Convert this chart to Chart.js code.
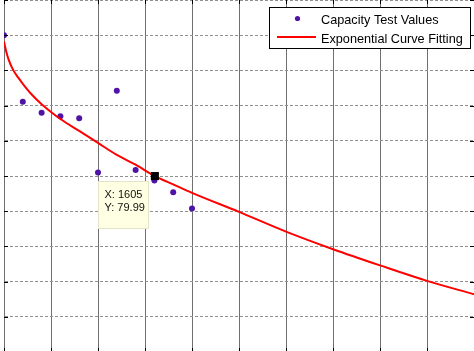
<!DOCTYPE html>
<html>
<head>
<meta charset="utf-8">
<script src="https://cdn.jsdelivr.net/npm/chart.js@4"></script>
<style>
  html, body { margin: 0; padding: 0; background: #fff; overflow: hidden; }
  #wrap { position: relative; width: 474px; height: 352px; }
</style>
</head>
<body>
<div id="wrap"><canvas id="capacityChart"></canvas></div>
<script>
// capacity tests, every 200 cycles
const testCycles = [0, 200, 400, 600, 800, 1000, 1200, 1400, 1600, 1800, 2000];
const testCapacity = [100, 90.55, 89.0, 88.5, 88.2, 80.5, 92.1, 80.85, 79.35, 77.7, 75.4];

// fitted curve
const fitCycles = [0, 25, 50, 100, 150, 200, 300, 400, 500, 600, 800, 1000, 1200, 1400, 1605, 1800, 2000, 2500, 3000, 3500, 4000, 4500, 5000];
const fitCapacity = [99.1, 97.6, 96.5, 95.0, 94.0, 93.1, 91.5, 90.2, 89.1, 88.1, 86.4, 84.7, 83.0, 81.6, 79.99, 78.8, 77.6, 74.9, 72.1, 69.6, 67.3, 65.1, 63.2];

// data cursor
const tipX = 1605;
const tipY = 79.99;

const xTicks = [0, 500, 1000, 1500, 2000, 2500, 3000, 3500, 4000, 4500, 5000];
const yTicks = [55, 60, 65, 70, 75, 80, 85, 90, 95, 100, 105];

const dotColor = '#4f14a6';
const lineColor = '#ff0000';
const uiFont = '"Liberation Sans", Arial, sans-serif';

const toXY = (xs, ys) => xs.map((x, i) => ({ x, y: ys[i] }));

// matlab style ticks pointing inward on all four sides
const innerTicks = {
  id: 'innerTicks',
  afterDatasetsDraw(chart) {
    const { ctx, chartArea: a, scales } = chart;
    ctx.save();
    ctx.strokeStyle = '#000';
    ctx.lineWidth = 1;
    ctx.beginPath();
    xTicks.forEach((v) => {
      const px = Math.round(scales.x.getPixelForValue(v)) + 0.5;
      ctx.moveTo(px, a.bottom); ctx.lineTo(px, a.bottom - 4);
      ctx.moveTo(px, a.top); ctx.lineTo(px, a.top + 4);
    });
    yTicks.forEach((v) => {
      const py = Math.round(scales.y.getPixelForValue(v)) + 0.5;
      ctx.moveTo(a.left, py); ctx.lineTo(a.left + 4, py);
      ctx.moveTo(a.right, py); ctx.lineTo(a.right - 4, py);
    });
    ctx.stroke();
    ctx.restore();
  }
};

// the yellow data tip box under the cursor
const dataTip = {
  id: 'dataTip',
  afterDatasetsDraw(chart) {
    const { ctx, scales } = chart;
    const px = scales.x.getPixelForValue(tipX);
    const py = scales.y.getPixelForValue(tipY);
    const bx = Math.round(px - 57) + 0.5;
    const by = Math.round(py + 5) + 0.5;
    ctx.save();
    ctx.fillStyle = '#ffffe4';
    ctx.strokeStyle = '#e4e4c8';
    ctx.lineWidth = 1;
    ctx.fillRect(bx, by, 50, 47);
    ctx.strokeRect(bx, by, 50, 47);
    ctx.fillStyle = '#111';
    ctx.font = '11px ' + uiFont;
    ctx.textBaseline = 'middle';
    ctx.fillText('X: ' + tipX, bx + 6, by + 13);
    ctx.fillText('Y: ' + tipY.toFixed(2), bx + 6, by + 26);
    ctx.restore();
  }
};

// legend box in the top right corner
const boxLegend = {
  id: 'boxLegend',
  afterDraw(chart) {
    const { ctx } = chart;
    const x0 = 269.5, y0 = 7.5, w = 201, h = 41;
    ctx.save();
    ctx.fillStyle = '#fff';
    ctx.fillRect(x0, y0, w, h);
    ctx.strokeStyle = '#000';
    ctx.lineWidth = 1;
    ctx.strokeRect(x0, y0, w, h);

    ctx.fillStyle = dotColor;
    ctx.beginPath();
    ctx.arc(297.5, 18.5, 2.6, 0, Math.PI * 2);
    ctx.fill();

    ctx.strokeStyle = lineColor;
    ctx.lineWidth = 2;
    ctx.beginPath();
    ctx.moveTo(277, 37); ctx.lineTo(316, 37);
    ctx.stroke();

    ctx.fillStyle = '#000';
    ctx.font = '12.7px ' + uiFont;
    ctx.textBaseline = 'middle';
    ctx.fillText(chart.data.datasets[0].label, 321, 20);
    ctx.fillText(chart.data.datasets[1].label, 321, 39);
    ctx.restore();
  }
};

new Chart(document.getElementById('capacityChart'), {
  type: 'scatter',
  data: {
    datasets: [
      {
        label: 'Capacity Test Values',
        data: toXY(testCycles, testCapacity),
        backgroundColor: dotColor,
        borderColor: dotColor,
        pointRadius: 3,
        borderWidth: 0,
        order: 3,
      },
      {
        label: 'Exponential Curve Fitting',
        data: toXY(fitCycles, fitCapacity),
        showLine: true,
        borderColor: lineColor,
        borderWidth: 2,
        pointRadius: 0,
        cubicInterpolationMode: 'monotone',
        order: 2,
      },
      {
        label: 'cursor',
        data: [{ x: tipX, y: tipY }],
        pointStyle: 'rect',
        pointRadius: 5.7,
        backgroundColor: '#000',
        borderColor: '#000',
        borderWidth: 0,
        order: 1,
      },
    ],
  },
  options: {
    responsive: true,
    maintainAspectRatio: false,
    animation: false,
    events: [],
    layout: { autoPadding: false, padding: { left: 4, right: 0, top: 0, bottom: 0 } },
    plugins: { legend: { display: false }, tooltip: { enabled: false } },
    scales: {
      x: {
        type: 'linear',
        min: 0,
        max: 5000,
        afterBuildTicks: (s) => { s.ticks = xTicks.map((v) => ({ value: v })); },
        afterFit: (s) => { s.height = 0; },
        ticks: { display: false },
        grid: { color: '#707070', lineWidth: 1, drawTicks: false },
        border: { color: '#707070' },
      },
      y: {
        type: 'linear',
        min: 55,
        max: 105,
        afterBuildTicks: (s) => { s.ticks = yTicks.map((v) => ({ value: v })); },
        afterFit: (s) => { s.width = 0; },
        ticks: { display: false },
        grid: { color: '#909090', lineWidth: 1, drawTicks: false },
        border: { color: '#707070', dash: [3, 2] },
      },
    },
  },
  plugins: [innerTicks, dataTip, boxLegend],
});
</script>
</body>
</html>
